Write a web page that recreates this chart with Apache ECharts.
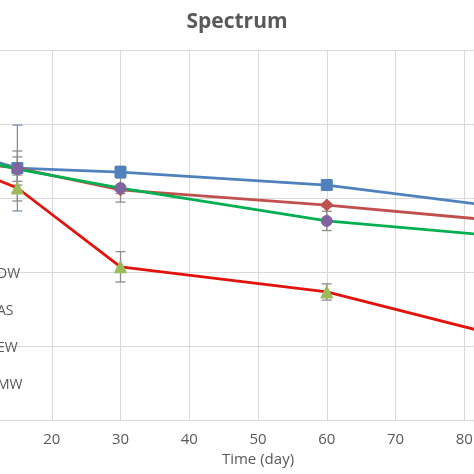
<!DOCTYPE html>
<html>
<head>
<meta charset="utf-8">
<script src="https://cdn.jsdelivr.net/npm/echarts@6/dist/echarts.min.js"></script>
<style>
  html, body { margin: 0; padding: 0; background: #fff; }
  #chart { width: 474px; height: 474px; }
</style>
</head>
<body>
<div id="chart"></div>
<script>
// days of measurement
var days = [10, 15, 30, 60, 90];

// series values (y axis labels are cropped, scale 0-100)
var dwVals = [70.8, 68.1, 67.0, 63.5, 56.5];
var asVals = [69.2, 68.1, 62.2, 58.1, 53.0];
var ewVals = [66.5, 62.7, 41.4, 34.6, 20.5];
var mwVals = [70.0, 67.8, 62.7, 53.8, 48.9];

// error bar half-lengths
var dwErr = [0, 11.6, 1.6, 0.4, 1.0];
var asErr = [0, 4.6, 1.0, 0.5, 1.0];
var ewErr = [0, 3.5, 4.1, 2.2, 1.0];
var mwErr = [0, 3.3, 3.8, 2.6, 1.0];

var names = ['DW', 'AS', 'EW', 'MW'];

var chart = echarts.init(document.getElementById('chart'));

function pairs(vals) {
  return days.map(function (d, i) { return [d, vals[i]]; });
}
function triples(vals, errs) {
  return days.map(function (d, i) { return [d, vals[i], errs[i]]; });
}

function errorBar(params, api) {
  var x = api.value(0), y = api.value(1), e = api.value(2);
  if (!e) return null;
  var hi = api.coord([x, y + e]);
  var lo = api.coord([x, y - e]);
  var w = 5;
  var st = { stroke: params.seriesIndex === 4 ? '#7d8fb0' : '#8c8c8c', lineWidth: 1.3, fill: null };
  return {
    type: 'group',
    children: [
      { type: 'line', shape: { x1: hi[0], y1: hi[1], x2: lo[0], y2: lo[1] }, style: st },
      { type: 'line', shape: { x1: hi[0] - w, y1: hi[1], x2: hi[0] + w, y2: hi[1] }, style: st },
      { type: 'line', shape: { x1: lo[0] - w, y1: lo[1], x2: lo[0] + w, y2: lo[1] }, style: st }
    ]
  };
}

function errSeries(vals, errs) {
  return {
    type: 'custom',
    renderItem: errorBar,
    data: triples(vals, errs),
    encode: { x: 0, y: 1 },
    z: 1,
    silent: true
  };
}

var symbolSizes = { rect: 11, diamond: 12, triangle: 12, circle: 11 };

function lineSeries(name, vals, lineColor, markColor, symbol) {
  return {
    name: name,
    type: 'line',
    data: pairs(vals),
    symbol: symbol,
    symbolSize: symbolSizes[symbol],
    showAllSymbol: true,
    lineStyle: { color: lineColor, width: 2.8 },
    itemStyle: { color: markColor, borderColor: markColor },
    z: 3
  };
}

chart.setOption({
  animation: false,
  title: {
    text: 'Spectrum',
    left: 'center',
    top: 7,
    textStyle: { fontFamily: 'Open Sans', fontSize: 21, fontWeight: 'bold', color: '#595959' }
  },
  legend: {
    orient: 'vertical',
    left: -39,
    top: 262,
    itemGap: 23,
    itemHeight: 14,
    data: names,
    textStyle: { fontFamily: 'Open Sans', fontSize: 14, color: '#595959' }
  },
  grid: { left: -17, right: -59, top: 50, bottom: 54, outerBoundsMode: 'none', containLabel: false },
  xAxis: {
    type: 'value',
    min: 10,
    max: 90,
    interval: 10,
    name: 'Time (day)',
    nameLocation: 'middle',
    nameGap: 32,
    nameTextStyle: { fontFamily: 'Open Sans', fontSize: 15, color: '#595959' },
    axisLine: { show: true, lineStyle: { color: '#d9d9d9', width: 1 } },
    axisTick: { show: false },
    axisLabel: { fontFamily: 'Open Sans', fontSize: 15, color: '#595959', margin: 12 },
    splitLine: { show: true, lineStyle: { color: '#d9d9d9', width: 1 } }
  },
  yAxis: {
    type: 'value',
    min: 0,
    max: 100,
    interval: 20,
    axisLine: { show: false },
    axisTick: { show: false },
    axisLabel: { show: false },
    splitLine: { show: true, lineStyle: { color: '#d9d9d9', width: 1 } }
  },
  series: [
    lineSeries('DW', dwVals, '#4f81bd', '#4f81bd', 'rect'),
    lineSeries('AS', asVals, '#c0504d', '#c0504d', 'diamond'),
    lineSeries('EW', ewVals, '#e3120b', '#9bbb59', 'triangle'),
    lineSeries('MW', mwVals, '#00b050', '#8064a2', 'circle'),
    errSeries(dwVals, dwErr),
    errSeries(asVals, asErr),
    errSeries(ewVals, ewErr),
    errSeries(mwVals, mwErr)
  ]
});
</script>
</body>
</html>
